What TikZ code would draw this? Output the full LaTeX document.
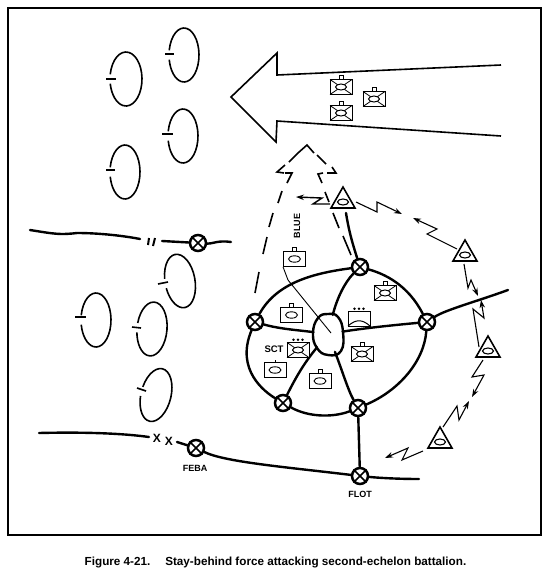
\documentclass[tikz,border=0pt]{standalone}
\usepackage{fontspec}
\setmainfont{Liberation Sans}
\usetikzlibrary{arrows.meta,shapes.geometric}
\tikzset{
  road/.style={line width=2.4pt,line cap=round,line join=round},
  ovalline/.style={line width=1.6pt},
  jag/.style={line width=1.1pt,line join=miter,-{Stealth[length=8pt,width=5.5pt]}},
  dashseg/.style={line width=1.6pt},
  xcpnode/.style={circle,draw,line width=2.5pt,minimum size=16pt,inner sep=0pt,fill=white},
  unitnode/.style={draw,line width=.9pt,minimum width=22pt,minimum height=15pt,inner sep=0pt,fill=white},
  lab/.style={font=\bfseries\fontsize{9}{10}\selectfont,inner sep=0pt}
}
\newcommand{\xcp}[2]{\node[xcpnode] (#1) at (#2) {};
  \draw[line width=1.6pt] (#1.45)--(#1.225) (#1.135)--(#1.315);}
\newcommand{\ovl}{\draw[line width=.9pt] (0,0) ellipse [x radius=6,y radius=3.2];}
\newcommand{\cross}{\draw[line width=.8pt] (-11,-7.5)--(11,7.5) (-11,7.5)--(11,-7.5);\draw[line width=1pt,fill=white] (0,0) ellipse [x radius=5.5,y radius=3];}
\newcommand{\tabtop}{\draw[line width=.8pt] (-2,-7.5) rectangle (2,-11.5);}
\newcommand{\dotstop}{\fill (-4.5,-10.3) circle [radius=1.4] (0,-10.3) circle [radius=1.4] (4.5,-10.3) circle [radius=1.4];}
\newcommand{\unitsym}[3]{\node[unitnode] (#1) at (#2) {};\begin{scope}[shift={(#2)}]#3\end{scope}}
\newcommand{\enemy}[6]{\begin{scope}[shift={(#1)},rotate=#4]
  \draw[ovalline] (190:#2 and #3) arc [start angle=190,end angle=530,x radius=#2,y radius=#3];
  \end{scope}
  \draw[ovalline] (#5)--(#6);}
\newcommand{\tri}[2]{\coordinate (#1) at (#2);\begin{scope}[shift={(#2)}]
  \draw[line width=1.6pt,line join=miter,fill=white] (0,-14)--(12,7)--(-12,7)--cycle;
  \draw[line width=1.1pt] (0,1) ellipse [x radius=5.5,y radius=3];\end{scope}}
\begin{document}
\begin{tikzpicture}[x=1pt,y=-1pt]
\useasboundingbox (0,0) rectangle (550,571);
\fill[white] (0,0) rectangle (550,571);
\draw[line width=1.4pt] (8,8) rectangle (541,535);
% big arrow
\coordinate (ta) at (501,65);
\coordinate (tb) at (501,136);
\draw[line width=1.6pt,line join=miter] (ta) -- (277,75) -- (277,53) -- (231,97) -- (276,142) -- (277,121) -- (tb);
\unitsym{ua}{341,87}{\cross\tabtop}
\unitsym{ub}{374,99}{\cross\tabtop}
\unitsym{uc}{341,113}{\cross\tabtop}
% enemy ovals
\enemy{126,79}{16}{27}{0}{106,79}{116,79}
\enemy{184,55}{15}{27}{0}{165,54}{174,54}
\enemy{183,136}{15}{27}{0}{162,134}{173,134}
\enemy{125,172}{15}{27}{0}{106,170}{115,170}
\enemy{180,281}{15}{27}{10}{158,284}{168,282}
\enemy{96,320}{15}{27}{0}{75,317}{86,317}
\enemy{152,329}{15}{27}{-5}{132,327}{141,328}
\enemy{156,395}{15}{27}{-14}{137,388}{146,391}
% control points
\xcp{n}{360,267}
\xcp{e}{427,322}
\xcp{se}{358,408}
\xcp{sw}{283,403}
\xcp{w}{255,322}
\xcp{lineb}{198,243}
\xcp{feba}{196,448}
\xcp{flot}{360,476}
\node[ellipse,minimum width=29pt,minimum height=40pt,inner sep=0pt] (blob) at (328,334) {};
\draw[line width=2.4pt] plot[smooth cycle,tension=.8] coordinates {(328,314) (338,317) (343,332) (341,351) (328,355) (317,348) (313,333) (318,318)};
% road net
\draw[road] (n) .. controls (315,273) and (277,282) .. (w);
\draw[road] (n) .. controls (385,274) and (408,285) .. (e);
\draw[road] (e) .. controls (424,362) and (398,391) .. (se);
\draw[road] (se) .. controls (335,417) and (310,418) .. (sw);
\draw[road] (sw) .. controls (265,392) and (235,370) .. (w);
\draw[road] (n) .. controls (345,282) and (337,298) .. (blob);
\draw[road] (e) .. controls (395,325) and (365,328) .. (blob);
\draw[road] (w) .. controls (280,329) and (297,330) .. (blob);
\draw[road] (sw) .. controls (297,375) and (305,362) .. (blob);
\draw[road] (se) .. controls (348,390) and (342,370) .. (blob);
\draw[road] (se) -- (flot);
\coordinate (ne) at (508,290);
\draw[road] (e) .. controls (445,310) and (475,302) .. (ne);
% phase lines
\coordinate (l1) at (30,230);
\coordinate (l2) at (140,239);
\coordinate (l3) at (162,241);
\coordinate (l4) at (231,242);
\draw[road] (l1) .. controls (55,234) and (60,235) .. (77,233) .. controls (100,233) and (125,236) .. (l2);
\draw[road] (l3) -- (lineb);
\draw[road] (lineb) .. controls (212,244) and (218,240) .. (l4);
\draw[line width=2pt] (149,238)--(148,245) (155,238)--(153,246);
\coordinate (b1) at (39,433);
\coordinate (b2) at (149,437);
\coordinate (b3) at (177,442);
\coordinate (fe) at (419,479);
\draw[road] (b1) .. controls (80,432) and (120,433) .. (b2);
\draw[road] (b3) -- (feba);
\draw[road] (feba) .. controls (225,462) and (285,467) .. (flot);
\draw[road] (flot) .. controls (380,478) and (400,479) .. (fe);
\node[font=\bfseries\fontsize{12}{12}\selectfont,inner sep=0pt] (x1) at (157,438) {X};
\node[font=\bfseries\fontsize{12}{12}\selectfont,inner sep=0pt] (x2) at (169,441) {X};
% dashed route
\begin{scope}[line cap=butt,line join=miter]
\draw[dashseg] (314,153)--(307,145)--(298,153) (289,162)--(298,153);
\draw[dashseg] (285,165)--(277,172)--(284,173);
\draw[dashseg] (285,173)--(292,173)--(287,183);
\draw[dashseg] (282,191)--(278,203) (273,213)--(269,227) (267,237)--(263,254) (259,272)--(255,293);
\draw[dashseg] (317,155)--(326,164) (332,167)--(336,173)--(327,173);
\draw[dashseg] (323,173)--(318,174)--(322,183);
\draw[dashseg] (325,192)--(329,202) (333,213)--(339,228) (343,236)--(351,255);
\end{scope}
% triangles
\tri{t1}{343,201}
\tri{t2}{465,254}
\tri{t3}{488,350}
\tri{t4}{440,441}
\draw[road] (346,213) .. controls (349,232) and (353,245) .. (n);
% jagged radio links
\draw[jag] (356,202)--(377,212)--(377,202)--(402,214);
\draw[jag] (457,249)--(427,234)--(437,229)--(413,218);
\draw[jag] (464,264)--(468,288)--(471,280)--(478,296);
\draw[jag] (479,347)--(473,309)--(484,318)--(481,300);
\draw[jag] (483,360)--(472,377)--(484,375)--(472,397);
\draw[jag] (443,427)--(457,406)--(459,420)--(469,401);
\draw[jag] (423,451)--(402,460)--(408,448)--(385,458);
\draw[jag,line width=1.4pt] (330,204)--(313,204)--(322,198)--(296,197);
% units in the perimeter
\unitsym{u1}{294.5,259}{\ovl\tabtop}
\unitsym{u2}{291.5,315}{\ovl\tabtop}
\unitsym{u3}{385,293}{\cross\tabtop}
\unitsym{u4}{359,319}{\draw[line width=1pt] (-11,7) .. controls (-3,0) and (3,0) .. (11,7);\dotstop}
\unitsym{u5}{362,354}{\cross\tabtop}
\unitsym{u6}{298,350}{\cross\dotstop}
\unitsym{u7}{275,370}{\ovl\draw[line width=.6pt] (0,-7.5)--(0,-10);}
\unitsym{u8}{320,381}{\ovl\tabtop}
\coordinate (bend) at (288,280);
\draw[line width=.9pt] (u1.south west) -- (bend) -- (331,333);
% labels
\node[lab,font=\bfseries\fontsize{9.5}{10}\selectfont] (sct) at (274,349) {SCT};
\node[lab,rotate=90] (blue) at (297,226) {BLUE};
\node[lab] (febalab) at (195,468) {FEBA};
\node[lab] (flotlab) at (360,494) {FLOT};
\node[inner sep=0pt,font=\bfseries\fontsize{11.7}{12}\selectfont] (cap) at (275.5,562) {Figure 4-21.\hspace{.9em} Stay-behind force attacking second-echelon battalion.};
\end{tikzpicture}
\end{document}
